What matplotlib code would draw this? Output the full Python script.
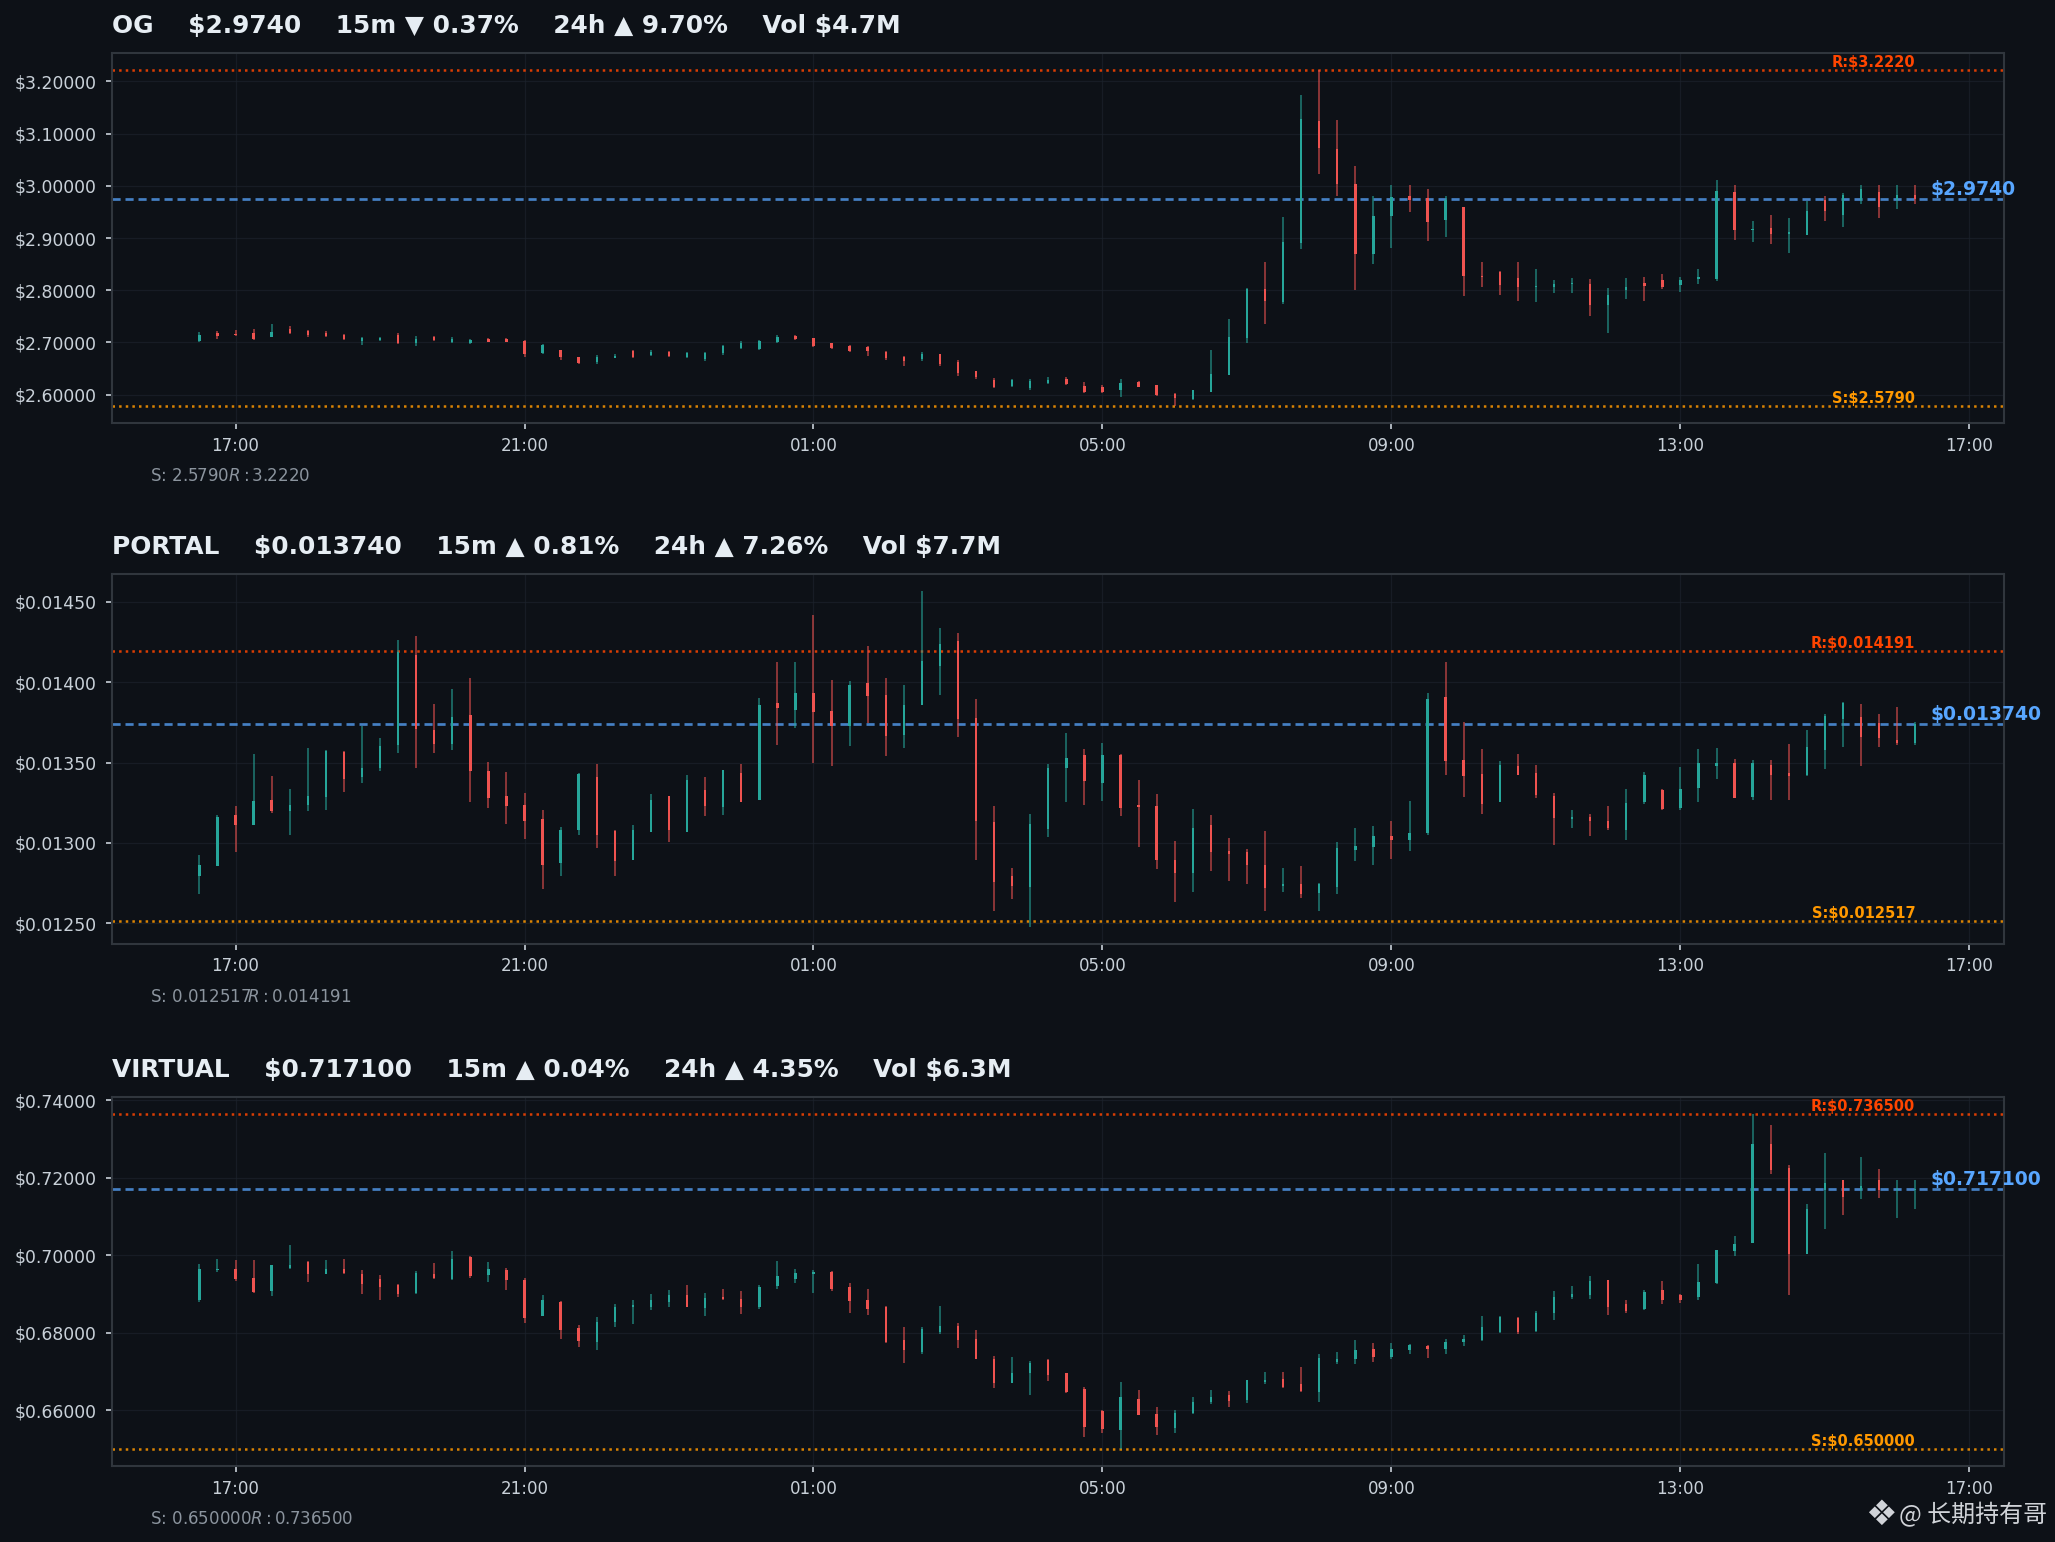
import numpy as np
import pandas as pd
import matplotlib
matplotlib.use("Agg")
import matplotlib.pyplot as plt
import matplotlib.dates as mdates
from matplotlib.ticker import FuncFormatter, MultipleLocator

# ---------------- data ----------------
start_time = "2025-01-01 16:30"
n_candles = 96

og_open = [2.703, 2.718, 2.716, 2.718, 2.711, 2.726, 2.721, 2.719, 2.714, 2.702, 2.705, 2.714, 2.699, 2.710, 2.701, 2.699,
           2.706, 2.707, 2.703, 2.680, 2.686, 2.673, 2.663, 2.671, 2.683, 2.676, 2.681, 2.673, 2.668, 2.679, 2.690, 2.688,
           2.700, 2.713, 2.708, 2.699, 2.694, 2.692, 2.681, 2.672, 2.668, 2.677, 2.662, 2.646, 2.629, 2.616, 2.612, 2.622,
           2.630, 2.616, 2.614, 2.608, 2.625, 2.618, 2.602, 2.592, 2.606, 2.638, 2.709, 2.803, 2.778, 2.891, 3.125, 3.071,
           3.004, 2.870, 2.943, 2.980, 2.977, 2.935, 2.960, 2.828, 2.834, 2.823, 2.806, 2.806, 2.811, 2.812, 2.772, 2.801,
           2.814, 2.820, 2.810, 2.821, 2.821, 2.989, 2.915, 2.920, 2.908, 2.906, 2.973, 2.944, 2.973, 2.989, 2.973, 2.983]
og_high = [2.720, 2.722, 2.724, 2.726, 2.736, 2.732, 2.724, 2.722, 2.717, 2.710, 2.711, 2.719, 2.713, 2.713, 2.710, 2.706,
           2.708, 2.708, 2.705, 2.697, 2.686, 2.673, 2.676, 2.677, 2.686, 2.686, 2.683, 2.681, 2.681, 2.696, 2.702, 2.705,
           2.715, 2.715, 2.708, 2.699, 2.696, 2.694, 2.683, 2.674, 2.681, 2.678, 2.667, 2.646, 2.632, 2.630, 2.630, 2.634,
           2.633, 2.625, 2.618, 2.630, 2.627, 2.619, 2.603, 2.609, 2.685, 2.745, 2.805, 2.854, 2.941, 3.174, 3.222, 3.126,
           3.038, 2.980, 3.002, 3.002, 2.994, 2.980, 2.960, 2.855, 2.836, 2.854, 2.840, 2.820, 2.824, 2.821, 2.805, 2.824,
           2.826, 2.831, 2.826, 2.841, 3.011, 3.002, 2.933, 2.944, 2.939, 2.971, 2.980, 2.986, 3.002, 3.002, 3.002, 3.002]
og_low = [2.700, 2.707, 2.713, 2.705, 2.711, 2.716, 2.711, 2.711, 2.704, 2.695, 2.702, 2.697, 2.694, 2.703, 2.699, 2.697,
          2.700, 2.700, 2.673, 2.678, 2.666, 2.658, 2.658, 2.671, 2.671, 2.675, 2.673, 2.671, 2.665, 2.676, 2.687, 2.686,
          2.699, 2.705, 2.692, 2.687, 2.681, 2.674, 2.666, 2.655, 2.665, 2.655, 2.635, 2.630, 2.612, 2.614, 2.608, 2.621,
          2.619, 2.604, 2.603, 2.595, 2.614, 2.598, 2.578, 2.590, 2.606, 2.637, 2.698, 2.736, 2.774, 2.878, 3.023, 2.981,
          2.801, 2.850, 2.881, 2.949, 2.895, 2.901, 2.788, 2.807, 2.791, 2.780, 2.777, 2.794, 2.794, 2.751, 2.719, 2.783,
          2.780, 2.802, 2.796, 2.812, 2.817, 2.897, 2.893, 2.889, 2.872, 2.906, 2.933, 2.922, 2.965, 2.938, 2.955, 2.965]
og_close = [2.715, 2.713, 2.714, 2.706, 2.720, 2.719, 2.714, 2.713, 2.706, 2.708, 2.708, 2.699, 2.706, 2.705, 2.706, 2.704,
            2.701, 2.701, 2.677, 2.695, 2.673, 2.660, 2.673, 2.674, 2.673, 2.682, 2.674, 2.679, 2.680, 2.693, 2.699, 2.703,
            2.711, 2.707, 2.694, 2.690, 2.683, 2.683, 2.670, 2.664, 2.677, 2.659, 2.642, 2.633, 2.615, 2.628, 2.627, 2.629,
            2.620, 2.605, 2.606, 2.623, 2.615, 2.600, 2.593, 2.608, 2.640, 2.711, 2.803, 2.780, 2.893, 3.127, 3.073, 3.004,
            2.870, 2.943, 2.979, 2.973, 2.931, 2.973, 2.828, 2.825, 2.810, 2.806, 2.809, 2.812, 2.814, 2.771, 2.791, 2.807,
            2.808, 2.807, 2.820, 2.825, 2.990, 2.916, 2.917, 2.908, 2.911, 2.951, 2.951, 2.983, 2.994, 2.960, 2.983, 2.974]

portal_open = [0.012794, 0.012856, 0.013172, 0.013114, 0.013269, 0.013201, 0.013238, 0.013286, 0.013563, 0.013410, 0.013466, 0.013611,
               0.014169, 0.013700, 0.013617, 0.013797, 0.013445, 0.013290, 0.013238, 0.013149, 0.012876, 0.013083, 0.013408, 0.013073,
               0.012893, 0.013067, 0.013290, 0.013071, 0.013331, 0.013224, 0.013435, 0.013265, 0.013873, 0.013828, 0.013931, 0.013821,
               0.013724, 0.013993, 0.013921, 0.013673, 0.013859, 0.014101, 0.014256, 0.013776, 0.013129, 0.012794, 0.012725, 0.013089,
               0.013466, 0.013549, 0.013373, 0.013549, 0.013238, 0.013228, 0.012893, 0.012814, 0.013110, 0.012949, 0.012943, 0.012860,
               0.012732, 0.012746, 0.012690, 0.012725, 0.012955, 0.012974, 0.013042, 0.013021, 0.013063, 0.013910, 0.013517, 0.013431,
               0.013253, 0.013480, 0.013435, 0.013290, 0.013149, 0.013160, 0.013135, 0.013083, 0.013253, 0.013331, 0.013218, 0.013342,
               0.013480, 0.013497, 0.013286, 0.013486, 0.013435, 0.013424, 0.013580, 0.013770, 0.013780, 0.013745, 0.013642, 0.013621]
portal_high = [0.012922, 0.013176, 0.013228, 0.013555, 0.013414, 0.013335, 0.013590, 0.013575, 0.013569, 0.013724, 0.013652, 0.014262,
               0.014287, 0.013865, 0.013956, 0.014024, 0.013503, 0.013441, 0.013311, 0.013207, 0.013100, 0.013435, 0.013493, 0.013083,
               0.013114, 0.013307, 0.013294, 0.013424, 0.013408, 0.013455, 0.013493, 0.013900, 0.014124, 0.014124, 0.014417, 0.014014,
               0.014008, 0.014225, 0.014028, 0.013979, 0.014568, 0.014338, 0.014307, 0.013896, 0.013228, 0.012845, 0.013182, 0.013493,
               0.013683, 0.013586, 0.013621, 0.013555, 0.013393, 0.013307, 0.013015, 0.013213, 0.013176, 0.013032, 0.012965, 0.013077,
               0.012845, 0.012856, 0.012752, 0.013005, 0.013094, 0.013104, 0.013135, 0.013259, 0.013935, 0.014124, 0.013755, 0.013586,
               0.013507, 0.013555, 0.013486, 0.013311, 0.013207, 0.013180, 0.013232, 0.013335, 0.013441, 0.013335, 0.013472, 0.013586,
               0.013590, 0.013522, 0.013517, 0.013517, 0.013617, 0.013704, 0.013801, 0.013879, 0.013865, 0.013803, 0.013844, 0.013749]
portal_low = [0.012680, 0.012856, 0.012943, 0.013114, 0.013187, 0.013052, 0.013197, 0.013203, 0.013315, 0.013373, 0.013445, 0.013559,
              0.013466, 0.013559, 0.013575, 0.013253, 0.013218, 0.013118, 0.013025, 0.012715, 0.012794, 0.013052, 0.012969, 0.012794,
              0.012893, 0.013067, 0.013005, 0.013067, 0.013166, 0.013172, 0.013253, 0.013265, 0.013611, 0.013714, 0.013497, 0.013480,
              0.013604, 0.013745, 0.013542, 0.013590, 0.013859, 0.013917, 0.013656, 0.012893, 0.012577, 0.012649, 0.012479, 0.013036,
              0.013253, 0.013234, 0.013263, 0.013170, 0.012974, 0.012835, 0.012632, 0.012694, 0.012825, 0.012763, 0.012742, 0.012577,
              0.012694, 0.012659, 0.012577, 0.012680, 0.012887, 0.012860, 0.012903, 0.012953, 0.013052, 0.013424, 0.013284, 0.013182,
              0.013253, 0.013424, 0.013280, 0.012990, 0.013094, 0.013042, 0.013083, 0.013021, 0.013245, 0.013203, 0.013203, 0.013253,
              0.013398, 0.013280, 0.013265, 0.013265, 0.013265, 0.013414, 0.013460, 0.013594, 0.013476, 0.013594, 0.013606, 0.013611]
portal_close = [0.012866, 0.013160, 0.013114, 0.013259, 0.013197, 0.013238, 0.013290, 0.013569, 0.013398, 0.013466, 0.013600, 0.014190,
                0.013708, 0.013617, 0.013786, 0.013445, 0.013280, 0.013232, 0.013135, 0.012860, 0.013079, 0.013431, 0.013052, 0.012887,
                0.013079, 0.013269, 0.013083, 0.013393, 0.013232, 0.013451, 0.013253, 0.013859, 0.013838, 0.013931, 0.013817, 0.013724,
                0.013979, 0.013915, 0.013662, 0.013859, 0.014134, 0.014237, 0.013770, 0.013135, 0.012756, 0.012732, 0.013120, 0.013466,
                0.013528, 0.013383, 0.013549, 0.013218, 0.013222, 0.012893, 0.012814, 0.013094, 0.012943, 0.012932, 0.012860, 0.012721,
                0.012746, 0.012680, 0.012742, 0.012969, 0.012980, 0.013042, 0.013021, 0.013063, 0.013896, 0.013507, 0.013414, 0.013245,
                0.013486, 0.013424, 0.013300, 0.013156, 0.013160, 0.013135, 0.013094, 0.013249, 0.013424, 0.013211, 0.013335, 0.013497,
                0.013497, 0.013280, 0.013497, 0.013424, 0.013414, 0.013594, 0.013791, 0.013873, 0.013656, 0.013652, 0.013621, 0.013740]

virtual_open = [0.68839, 0.69613, 0.69656, 0.69424, 0.69080, 0.69682, 0.69828, 0.69527, 0.69656, 0.69527, 0.69398, 0.69226,
                0.69028, 0.69527, 0.69398, 0.69957, 0.69484, 0.69613, 0.69372, 0.68426, 0.68796, 0.68133, 0.67763, 0.68280,
                0.68667, 0.68667, 0.68796, 0.68968, 0.68649, 0.68925, 0.68882, 0.68667, 0.69200, 0.69398, 0.69527, 0.69570,
                0.69183, 0.68839, 0.68667, 0.67806, 0.67505, 0.68022, 0.68168, 0.67849, 0.67333, 0.66705, 0.66963, 0.67290,
                0.66963, 0.66559, 0.65983, 0.65484, 0.66301, 0.65914, 0.65544, 0.65931, 0.66215, 0.66387, 0.66258, 0.66731,
                0.66817, 0.66688, 0.66473, 0.67247, 0.67333, 0.67591, 0.67376, 0.67566, 0.67660, 0.67591, 0.67763, 0.67806,
                0.68022, 0.68391, 0.68047, 0.68512, 0.68925, 0.68968, 0.69355, 0.68753, 0.68624, 0.69114, 0.68968, 0.68925,
                0.69286, 0.70112, 0.70318, 0.72864, 0.72254, 0.70043, 0.71677, 0.71935, 0.71694, 0.71953, 0.71677, 0.71677]
virtual_high = [0.69768, 0.69914, 0.69871, 0.69888, 0.69759, 0.70258, 0.69845, 0.69888, 0.69914, 0.69613, 0.69484, 0.69269,
                0.69596, 0.69802, 0.70112, 0.69974, 0.69828, 0.69682, 0.69415, 0.68968, 0.68813, 0.68194, 0.68409, 0.68753,
                0.68856, 0.69011, 0.69114, 0.69243, 0.69037, 0.69140, 0.69071, 0.69243, 0.69845, 0.69656, 0.69613, 0.69587,
                0.69295, 0.69140, 0.68684, 0.68150, 0.68150, 0.68684, 0.68254, 0.68065, 0.67394, 0.67376, 0.67265, 0.67333,
                0.66972, 0.66602, 0.66000, 0.66731, 0.66533, 0.66086, 0.66017, 0.66344, 0.66533, 0.66490, 0.66791, 0.66989,
                0.66989, 0.67118, 0.67462, 0.67505, 0.67824, 0.67738, 0.67738, 0.67703, 0.67695, 0.67832, 0.67935, 0.68434,
                0.68426, 0.68409, 0.68563, 0.69080, 0.69200, 0.69458, 0.69372, 0.68839, 0.69114, 0.69329, 0.68994, 0.69768,
                0.70146, 0.70490, 0.73656, 0.73355, 0.72322, 0.71316, 0.72649, 0.71953, 0.72537, 0.72219, 0.71935, 0.71953]
virtual_low = [0.68796, 0.69570, 0.69338, 0.69028, 0.68942, 0.69639, 0.69312, 0.69510, 0.69510, 0.68994, 0.68839, 0.68925,
               0.69011, 0.69398, 0.69355, 0.69424, 0.69312, 0.69114, 0.68254, 0.68426, 0.67832, 0.67634, 0.67548, 0.68150,
               0.68237, 0.68598, 0.68667, 0.68667, 0.68426, 0.68839, 0.68477, 0.68624, 0.69140, 0.69286, 0.69028, 0.69080,
               0.68512, 0.68452, 0.67738, 0.67221, 0.67445, 0.67978, 0.67617, 0.67316, 0.66585, 0.66705, 0.66404, 0.66757,
               0.66447, 0.65312, 0.65415, 0.65011, 0.65871, 0.65372, 0.65415, 0.65897, 0.66172, 0.66086, 0.66189, 0.66688,
               0.66576, 0.66473, 0.66215, 0.67204, 0.67187, 0.67247, 0.67333, 0.67462, 0.67359, 0.67462, 0.67652, 0.67781,
               0.68004, 0.67961, 0.68022, 0.68340, 0.68882, 0.68882, 0.68452, 0.68512, 0.68598, 0.68753, 0.68770, 0.68839,
               0.69252, 0.69974, 0.70318, 0.72107, 0.68968, 0.70043, 0.70688, 0.71032, 0.71462, 0.71488, 0.70972, 0.71204]
virtual_close = [0.69656, 0.69656, 0.69398, 0.69054, 0.69742, 0.69742, 0.69527, 0.69656, 0.69544, 0.69269, 0.69183, 0.68994,
                 0.69544, 0.69424, 0.69914, 0.69458, 0.69656, 0.69355, 0.68391, 0.68856, 0.68082, 0.67781, 0.68280, 0.68667,
                 0.68710, 0.68839, 0.68968, 0.68667, 0.68899, 0.68882, 0.68667, 0.69183, 0.69458, 0.69544, 0.69570, 0.69140,
                 0.68822, 0.68624, 0.67763, 0.67548, 0.68108, 0.68168, 0.67824, 0.67333, 0.66705, 0.66963, 0.67221, 0.66903,
                 0.66473, 0.65570, 0.65527, 0.66344, 0.65871, 0.65570, 0.65931, 0.66215, 0.66344, 0.66241, 0.66774, 0.66774,
                 0.66602, 0.66499, 0.67359, 0.67333, 0.67566, 0.67376, 0.67591, 0.67677, 0.67591, 0.67763, 0.67849, 0.68150,
                 0.68409, 0.68022, 0.68512, 0.68925, 0.68994, 0.69338, 0.68667, 0.68563, 0.69054, 0.68839, 0.68839, 0.69312,
                 0.70129, 0.70284, 0.72864, 0.72211, 0.70043, 0.71204, 0.71867, 0.71505, 0.71780, 0.71677, 0.71720, 0.71710]

symbols = ["OG", "PORTAL", "VIRTUAL"]
price_labels = ["$2.9740", "$0.013740", "$0.717100"]
current_prices = [2.9740, 0.013740, 0.717100]
chg_15m = ["▼ 0.37%", "▲ 0.81%", "▲ 0.04%"]
chg_24h = ["▲ 9.70%", "▲ 7.26%", "▲ 4.35%"]
volumes = ["$4.7M", "$7.7M", "$6.3M"]
supports = [2.5790, 0.012517, 0.650000]
resistances = [3.2220, 0.014191, 0.736500]
support_labels = ["2.5790", "0.012517", "0.650000"]
resist_labels = ["3.2220", "0.014191", "0.736500"]
ytick_steps = [0.1, 0.0005, 0.02]
watermark = "@ 长期持有哥"

# ---------------- style ----------------
BG = "#0d1117"
UP = "#26a69a"
DOWN = "#ef5350"
BLUE = "#58a6ff"
RCOL = "#ff4500"
SCOL = "#ff9800"
TXT = "#e6edf3"
TICK = "#c9d1d9"
MUTED = "#8b949e"
SPINE = "#30363d"

plt.rcParams["font.family"] = ["DejaVu Sans"]

times = mdates.date2num(pd.date_range(start_time, periods=n_candles, freq="15min").to_pydatetime())

panels = [
    (og_open, og_high, og_low, og_close),
    (portal_open, portal_high, portal_low, portal_close),
    (virtual_open, virtual_high, virtual_low, virtual_close),
]

fig = plt.figure(figsize=(13.7, 10.28), dpi=150, facecolor=BG)
axes_pos = [
    [0.0547, 0.7257, 0.9205, 0.2399],
    [0.0547, 0.3881, 0.9205, 0.2397],
    [0.0547, 0.0493, 0.9205, 0.2393],
]

body_w = 2.0 / 1440.0
span = times[-1] - times[0]


def esc(s):
    return s.replace("$", r"\$")


for k in range(3):
    o, h, l, c = (np.asarray(a, dtype=float) for a in panels[k])
    ax = fig.add_axes(axes_pos[k], facecolor=BG)
    up = c >= o
    cols = np.where(up, UP, DOWN)
    ax.vlines(times, l, h, colors=cols, linewidth=0.95, alpha=0.55, zorder=3)
    rng = max(h.max(), resistances[k]) - min(l.min(), supports[k])
    body = np.maximum(np.abs(c - o), rng * 0.003)
    ax.bar(times, body, bottom=np.minimum(o, c), width=body_w, color=cols,
           linewidth=0, zorder=4)

    ax.axhline(resistances[k], color=RCOL, ls=":", lw=1.2, alpha=0.85, zorder=2)
    ax.axhline(supports[k], color=SCOL, ls=":", lw=1.2, alpha=0.85, zorder=2)
    ax.axhline(current_prices[k], color=BLUE, ls=(0, (3.0, 1.8)), lw=1.3, alpha=0.75, zorder=2)

    ax.text(times[-1], resistances[k], esc(f"R:${resist_labels[k]}"), color=RCOL, fontsize=7,
            fontweight="bold", ha="right", va="bottom", zorder=5)
    ax.text(times[-1], supports[k], esc(f"S:${support_labels[k]}"), color=SCOL, fontsize=7,
            fontweight="bold", ha="right", va="bottom", zorder=5)
    ax.text(0.961, current_prices[k], esc(price_labels[k]), color=BLUE, fontsize=9,
            fontweight="bold", ha="left", va="bottom", transform=ax.get_yaxis_transform(),
            clip_on=False, zorder=6)

    lo = min(l.min(), supports[k])
    hi = max(h.max(), resistances[k])
    pad = 0.05 * (hi - lo)
    ax.set_ylim(lo - pad, hi + pad)
    ax.set_xlim(times[0] - 0.05 * span - body_w / 2, times[-1] + 0.05 * span + body_w / 2 + 1.5 / 1440)

    ax.xaxis.set_major_locator(mdates.HourLocator(byhour=[1, 5, 9, 13, 17, 21]))
    ax.xaxis.set_major_formatter(mdates.DateFormatter("%H:%M"))
    ax.yaxis.set_major_locator(MultipleLocator(ytick_steps[k]))
    ax.yaxis.set_major_formatter(FuncFormatter(lambda v, p: f"\\${v:.5f}"))
    ax.tick_params(colors=TICK, labelcolor=TICK, labelsize=8, length=3, width=0.8)
    ax.tick_params(axis="y", labelsize=8.3, pad=4.6)
    for s in ax.spines.values():
        s.set_color(SPINE)
        s.set_linewidth(1.0)
    ax.grid(True, color="#1c222b", lw=0.6, alpha=0.7, zorder=0)
    ax.set_axisbelow(True)

    title = f"{symbols[k]}    {price_labels[k]}    15m {chg_15m[k]}    24h {chg_24h[k]}    Vol {volumes[k]}"
    ax.text(0.0, 1.054, esc(title), transform=ax.transAxes, fontsize=11.95, fontweight="bold",
            color=TXT, ha="left", va="baseline")
    # the original footer string; its two "$" signs make matplotlib set the middle as math
    footer = f"S: ${support_labels[k]}  R: ${resist_labels[k]}"
    ax.text(0.02, -0.12, footer, transform=ax.transAxes, fontsize=8, color=MUTED,
            ha="left", va="top")

fig.text(0.9232, 0.0178, "❖", fontsize=17, color="#d0d3d8", ha="right", va="center",
         family=["DejaVu Sans"])
fig.text(0.996, 0.0175, watermark, fontsize=11.5, color="#d0d3d8", ha="right", va="center",
         family=["Noto Sans CJK SC", "DejaVu Sans"])

fig.savefig("out.png", dpi=150, facecolor=BG)
